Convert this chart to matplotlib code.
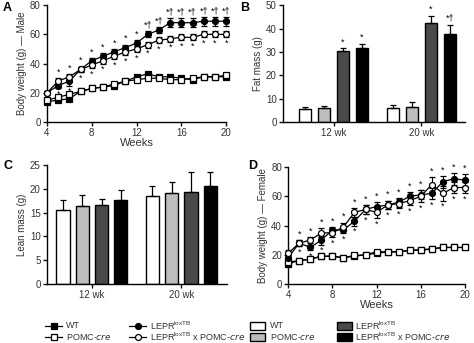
import matplotlib
matplotlib.use("Agg")
import matplotlib.pyplot as plt
import numpy as np
from matplotlib.lines import Line2D
from matplotlib.patches import Rectangle

plt.rcParams['font.family'] = ['Liberation Sans', 'DejaVu Sans']
plt.rcParams['text.color'] = '#333333'
plt.rcParams['axes.labelcolor'] = '#333333'
plt.rcParams['xtick.color'] = '#111111'
plt.rcParams['ytick.color'] = '#111111'
plt.rcParams['xtick.labelcolor'] = '#333333'
plt.rcParams['ytick.labelcolor'] = '#333333'

weeks = list(range(4, 21))

# Panel A (male body weight)
a_wt = [14, 15, 16, 21, 23, 24, 25, 28, 31, 33, 31, 31, 30, 29, 31, 31, 31]
a_wt_err = [1, 1, 1.5, 1, 1, 1, 1, 1, 1, 1, 1, 1, 1, 1, 1, 1.5, 1.5]
a_pomc = [15, 17, 19, 21, 23, 24, 26, 28, 29, 30, 30, 29, 29, 30, 31, 31, 32]
a_pomc_err = [1, 1, 1, 1, 1, 1, 1, 1, 1, 1, 1, 1, 1, 1, 1, 1, 1]
a_lepr = [20, 25, 28, 36, 42, 45, 48, 51, 54, 60, 63, 68, 68, 68, 69, 69, 69]
a_lepr_err = [1, 2, 3, 2, 2, 2, 2, 2, 2, 2, 2, 3, 3, 3, 3, 3, 3]
a_lxp = [20, 28, 31, 36, 39, 42, 45, 48, 50, 53, 56, 57, 58, 58, 60, 60, 60]
a_lxp_err = [1, 2, 2, 2, 2, 2, 2, 2, 2, 2, 2, 2, 2, 2, 2, 2, 2]
a_top_marks = ['', '*', '*', '*', '*', '*', '*', '*', '*', '*\u2020', '*\u2020',
               '*\u2020', '*\u2020', '*\u2020', '*\u2020', '*\u2020', '*\u2020']
a_bot_marks = ['', '*', '*', '*', '*', '*', '*', '*', '*', '*', '*', '*', '*', '*', '*', '*', '*']

# Panel D (female body weight)
d_wt = [14, 16, 17, 19, 19, 18, 19, 20, 21, 22, 22, 23, 23, 24, 25, 25, 25]
d_wt_err = [1] * 17
d_pomc = [15, 16, 17, 19, 19, 18, 19.5, 20, 22, 22, 22, 23, 23.5, 24, 25, 25, 25]
d_pomc_err = [1] * 17
d_lepr = [18, 28, 25, 30, 37, 37, 43, 51, 53, 54, 56, 60, 61, 62, 70, 72, 71]
d_lepr_err = [2, 2, 2, 3, 2, 2, 3, 3, 3, 3, 3, 3, 3, 4, 4, 4, 4]
d_lxp = [21, 28, 30, 35, 35, 39, 49, 51, 49, 54, 55, 57, 60, 68, 62, 66, 66]
d_lxp_err = [2, 2, 2, 3, 3, 3, 3, 3, 4, 3, 3, 3, 4, 5, 5, 4, 4]
d_top_marks = ['', '*', '*', '*', '*', '*', '*', '*', '*', '*', '*', '*', '*', '*', '*', '*', '*']
d_bot_marks = ['', '*', '*', '*', '*', '*', '*', '*', '*', '*', '*', '*', '*', '*', '*', '*', '*']

# Bars
groups = ['12 wk', '20 wk']
legend_labels = ['WT', 'POMC-$\\mathit{cre}$', 'LEPR$^{\\mathregular{loxTB}}$',
                 'LEPR$^{\\mathregular{loxTB}}$ x POMC-$\\mathit{cre}$']
fat_12 = [5.5, 6.0, 30.5, 31.5]
fat_12_err = [1.0, 1.0, 1.0, 2.0]
fat_20 = [6.0, 6.5, 42.5, 37.5]
fat_20_err = [1.2, 2.3, 3.0, 4.2]
fat_marks_12 = ['', '', '*', '*']
fat_marks_20 = ['', '', '*', '*\u2020']
lean_12 = [15.5, 16.4, 16.6, 17.6]
lean_12_err = [2.2, 2.2, 1.2, 2.2]
lean_20 = [18.5, 19.1, 19.4, 20.5]
lean_20_err = [2.0, 2.4, 4.2, 3.1]

bar_colors = ['white', '#bdbdbd', '#4a4a4a', 'black']

W, H = 474, 343
fig = plt.figure(figsize=(4.74, 3.43), dpi=100)

def style(ax):
    for s in ['top', 'right']:
        ax.spines[s].set_visible(False)
    for s in ['left', 'bottom']:
        ax.spines[s].set_linewidth(1.0)
    ax.tick_params(labelsize=7, width=1.0, length=3, pad=1.5)

def line_panel(ax, wt, wte, pomc, pomce, lepr, lepre, lxp, lxpe, top, bot):
    kw = dict(lw=0.9, color='black', ms=4.3, mew=0.9, capsize=2, elinewidth=0.8,
              capthick=0.8, clip_on=False, zorder=3)
    ax.errorbar(weeks, wt, yerr=wte, marker='s', mfc='black', **kw)
    ax.errorbar(weeks, pomc, yerr=pomce, marker='s', mfc='white', **kw)
    ax.errorbar(weeks, lepr, yerr=lepre, marker='o', mfc='black', **kw)
    ax.errorbar(weeks, lxp, yerr=lxpe, marker='o', mfc='white', **kw)
    for i, w in enumerate(weeks):
        hi = max(lepr[i] + lepre[i], lxp[i] + lxpe[i])
        lo = min(lepr[i] - lepre[i], lxp[i] - lxpe[i])
        if top[i]:
            ax.text(w, hi + 1.0, top[i], ha='center', va='bottom', fontsize=6.5, color='black')
        if bot[i]:
            ax.text(w, lo - 1.0, bot[i], ha='center', va='top', fontsize=6.5, color='black')
    ax.set_xlim(4, 20)
    ax.set_ylim(0, 80)
    ax.set_xticks([4, 8, 12, 16, 20])
    ax.set_yticks([0, 20, 40, 60, 80])
    ax.set_xlabel('Weeks', fontsize=8, labelpad=0)
    style(ax)

# Panel A
axA = fig.add_axes([0.099, 0.644, 0.378, 0.341])
line_panel(axA, a_wt, a_wt_err, a_pomc, a_pomc_err, a_lepr, a_lepr_err, a_lxp, a_lxp_err,
           a_top_marks, a_bot_marks)
axA.set_ylabel('Body weight (g) \u2014 Male', fontsize=7, labelpad=2)

# Panel D
axD = fig.add_axes([0.608, 0.172, 0.373, 0.341])
line_panel(axD, d_wt, d_wt_err, d_pomc, d_pomc_err, d_lepr, d_lepr_err, d_lxp, d_lxp_err,
           d_top_marks, d_bot_marks)
axD.set_ylabel('Body weight (g) \u2014 Female', fontsize=7, labelpad=2)

pos1 = np.array([0, 1, 2, 3])
pos2 = pos1 + 4.63

def bar_panel(ax, v1, e1, v2, e2, m1=None, m2=None, ymax=50, step=10, xl=(-1.16, 8.42)):
    for pos, v, e, m in [(pos1, v1, e1, m1), (pos2, v2, e2, m2)]:
        ax.bar(pos, v, width=0.68, color=bar_colors, edgecolor='black', lw=1.0, zorder=2)
        ax.errorbar(pos, v, yerr=[np.zeros(4), e], fmt='none', ecolor='black',
                    elinewidth=0.9, capsize=2.5, capthick=0.9, zorder=3)
        if m is not None:
            for p, vv, ee, mm in zip(pos, v, e, m):
                if mm:
                    ax.text(p, vv + ee + ymax * 0.015, mm, ha='center', va='bottom',
                            fontsize=6.5, color='black')
    ax.set_xlim(*xl)
    ax.set_ylim(0, ymax)
    ax.set_yticks(np.arange(0, ymax + 0.1, step))
    ax.set_xticks([pos1.mean(), pos2.mean()])
    ax.set_xticklabels(groups)
    style(ax)

axB = fig.add_axes([0.597, 0.644, 0.384, 0.341])
bar_panel(axB, fat_12, fat_12_err, fat_20, fat_20_err, fat_marks_12, fat_marks_20,
          ymax=50, step=10, xl=(-1.16, 8.42))
axB.set_ylabel('Fat mass (g)', fontsize=7, labelpad=2)

axC = fig.add_axes([0.099, 0.172, 0.380, 0.347])
bar_panel(axC, lean_12, lean_12_err, lean_20, lean_20_err, ymax=25, step=5,
          xl=(-0.83, 8.5))
axC.set_ylabel('Lean mass (g)', fontsize=7, labelpad=2)

for lab, px, py in [('A', 3, 8), ('B', 240, 8), ('C', 3, 166), ('D', 248, 166)]:
    fig.text(px / W, 1 - py / H, lab, fontsize=9, fontweight='bold', color='black',
             ha='left', va='center')

# Manual legends (pixel layout)
def fx(x): return x / W
def fy(y): return 1 - y / H

row_y = [326, 337]
line_cols = [(45, 62, 66), (129, 146, 150)]
markers = [('s', 'black'), ('s', 'white'), ('o', 'black'), ('o', 'white')]
for k in range(4):
    c, r = k // 2, k % 2
    x0, x1, xt = line_cols[c]
    y = fy(row_y[r])
    fig.add_artist(Line2D([fx(x0), fx(x1)], [y, y], color='black', lw=0.9,
                          transform=fig.transFigure))
    fig.add_artist(Line2D([fx((x0 + x1) / 2)], [y], color='black', marker=markers[k][0],
                          mfc=markers[k][1], mec='black', mew=0.9, ms=4.3,
                          transform=fig.transFigure))
    fig.text(fx(xt), y, legend_labels[k], fontsize=6.5, ha='left', va='center')

bar_cols = [(250, 270), (337, 355)]
for k in range(4):
    c, r = k // 2, k % 2
    x0, xt = bar_cols[c]
    y = row_y[r]
    fig.add_artist(Rectangle((fx(x0), fy(y + 4)), 15 / W, 8 / H, facecolor=bar_colors[k],
                             edgecolor='black', lw=1.0, transform=fig.transFigure))
    fig.text(fx(xt), fy(y), legend_labels[k], fontsize=6.5, ha='left', va='center')

fig.savefig('out.png', dpi=100)
